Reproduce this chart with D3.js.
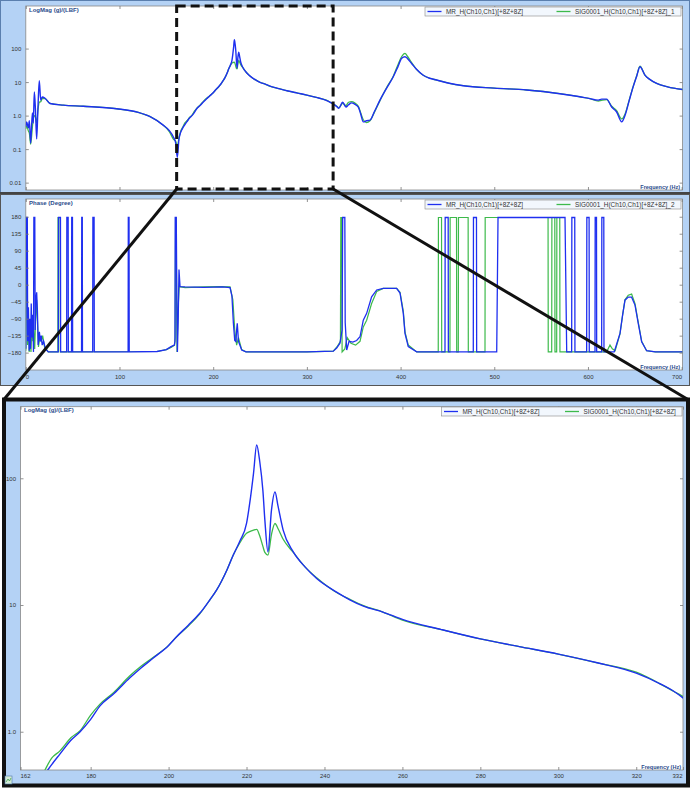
<!DOCTYPE html>
<meta charset="utf-8">
<style>
    body { margin: 0; background: #fff; }
    svg { display: block; font-family: "Liberation Sans", Arial, sans-serif; }
    .tick text { font-size: 6px; fill: #333; }
    .tick line { stroke: #777; stroke-width: 0.8; }
    .title { font-size: 6px; font-weight: bold; fill: #2b4c8c; }
    .legend text { font-size: 6.4px; fill: #333; }
</style>
<body>
<script src="https://cdn.jsdelivr.net/npm/d3@7/dist/d3.min.js"></script>
<script>
    // magnitude (g)/(LBF), both series share one frequency grid (Hz)
    const magFreq = [0,1,2.7,3.8,5.2,7,8,9.1,10.3,11.6,13,14.4,15.9,17.6,20.5,25.8,
        40,61.3,97,120,132.7,146.6,153,157.5,160,161.7,
        163.5,165,168,170,172,175,177.3,180,182.4,186,190,193,196,200,202,205,208,210.6,212.3,215,216.6,218.3,
        220,220.8,221.8,222.6,223.4,224.2,224.7,225.5,226.4,227.3,228.1,229.4,232,235,238,243,246.5,
        250,255,260,270,280,290,300,310,320,326,330,332,
        334,338.2,341.7,344.5,347.8,351,354.9,357.5,360.2,363.5,367.3,372,378,385,392.2,397,401.2,404.7,407.5,411.8,
        417,424.2,431,438.5,452,466.9,500,534.6,570,590,602.1,611,614.6,619.9,625.3,630.6,636,639.5,644,648.3,
        652,655.5,660.8,666,673.3,685,701];
    const mrMag = [0.47,0.65,0.43,0.7,0.15,1.2,0.6,5.1,1.5,0.2,1.8,11,2.9,3.6,3.3,2.3,
        2.05,1.9,1.6,1.25,0.93,0.52,0.36,0.23,0.15,0.057,
        0.2,0.3,0.45,0.55,0.66,0.86,1.0,1.25,1.6,2.0,2.65,3.2,3.8,4.8,5.6,6.9,8.6,11,13.1,19,24.8,32,
        44,63,110,183,135,80,47,26.3,56,78,60,39,26.3,20,16.2,12.7,11,
        9.8,8.8,7.7,6.4,5.4,4.7,4.1,3.5,2.9,2.4,2.05,1.85,
        1.65,2.5,1.8,2.1,2.4,2.2,1.8,1.1,0.65,0.7,0.73,1.3,2.9,6.5,14.4,28,51,57,50,36,
        24,16,13,11.5,9.2,7.8,6.6,5.8,4.5,3.7,3.2,2.9,3.1,3.1,1.8,1.28,0.65,1.0,2.8,7.3,
        15,28.6,16.2,12,9.1,7.2,6.0];
    const sigMag = [0.4,0.5,0.35,0.3,0.14,0.45,0.8,1.0,0.9,0.6,1.5,2.5,2.6,3.2,3.2,2.3,
        2.05,1.9,1.6,1.25,0.93,0.52,0.34,0.2,0.17,0.12,
        0.22,0.32,0.48,0.62,0.7,0.9,1.02,1.35,1.65,2.05,2.75,3.3,3.85,4.8,5.6,6.8,8.5,11,13.1,19,24.8,31,
        36.8,38,39,39.5,35,29,26,24.8,36,44,40,33,26,20,16.4,12.6,11.1,
        9.9,8.8,7.6,6.4,5.4,4.7,4.1,3.5,2.95,2.4,2.05,1.9,
        1.7,2.3,2.0,2.5,2.6,2.4,1.9,1.2,0.75,0.62,0.7,1.25,2.8,6.8,15,32,58,72,58,38,
        24,16,13,11.5,9.2,7.8,6.6,5.8,4.5,3.7,3.2,2.7,2.85,3.0,1.9,1.4,0.8,1.1,2.9,7.5,
        15.5,30,16.2,12,9.1,7.2,6.0];

    // phase (degree) as [Hz, deg]
    const mrPhase = [[0,-170],[0.6,178],[1.6,178],[2,-150],[2.8,-60],[3.6,-175],[4.3,-90],[5,-170],[5.8,-50],
        [6.6,-140],[7.4,-80],[8.2,-178],[8.6,178],[9.6,178],[10,-120],[10.8,-40],[11.6,-20],[12.4,-70],
        [13.2,-160],[14.5,-125],[15.5,-150],[16.5,-135],[17.5,-160],[19,-150],[21,-170],[24,-178],
        [34.7,-178],[34.9,178],[37,178],[37.2,-178],[43.6,-178],[43.8,178],[45.2,178],[45.4,-178],
        [48.8,-178],[49,178],[49.8,178],[50,-178],[59.5,-178],[59.7,178],[60.3,178],[60.5,-178],
        [71.4,-178],[71.6,178],[72.9,178],[73.1,-178],[109.2,-178],[109.4,178],[110.2,178],[110.4,-178],
        [140,-177],[150,-172],[155,-164],[158.5,-160],[159.2,-150],[159.5,178],[160.6,178],[161.2,-40],
        [161.8,-178],[162.6,-100],[163.5,40],[164.6,-5],[170,-6],[190,-7],[210,-6],[218,-8],[220,-30],
        [221.5,-100],[223,-148],[224.3,-151],[225,-120],[225.7,-102],[227,-150],[230.4,-173],[235,-178],
        [300,-178],[328.2,-176],[331.8,-168],[335.3,-155],[337.6,-120],[338.2,178],[340.5,178],[340.9,-100],
        [342.5,-173],[345,-150],[349,-152],[353.1,-148],[356.7,-138],[360.2,-94],[363.8,-76],[369.1,-32],
        [374.5,-14],[381.5,-10],[395.8,-10],[399.4,-22],[402.9,-76],[404.7,-129],[408.2,-164],[417.2,-178],
        [447.4,-178],[447.6,178],[450.8,178],[451,-178],[477.6,-178],[477.8,178],[481,178],[481.2,-178],
        [502.6,-178],[504,178],[575.5,178],[577.3,-178],[582.6,-178],[582.8,178],[585.9,178],[586.1,-178],
        [598.6,-178],[598.8,178],[601.2,178],[601.4,-178],[607.5,-178],[607.7,178],[609.1,178],[609.3,-178],
        [614.6,-178],[614.8,178],[616.9,178],[617.1,-178],[628,-178],[634.2,-129],[637,-80],[639.5,-41],
        [643,-33],[646.6,-33],[650.2,-54],[653.7,-103],[657.3,-151],[662.6,-175],[672,-178],[701,-178]];
    const sigPhase = [[0,-175],[0.4,178],[1.4,178],[1.8,-160],[2.8,-100],[3.6,-178],[4.5,-130],[5.5,-178],
        [6.5,-110],[7.5,-150],[8.5,-120],[9.5,-170],[10.5,-90],[11.6,-40],[12.5,-100],[13.5,-165],[15,-140],
        [16.5,-150],[18,-135],[20,-165],[24,-178],[34.2,-178],[34.4,178],[36.6,178],[36.8,-178],
        [140,-177],[150,-172],[155,-166],[158.8,-160],[159.4,-140],[159.8,178],[160.4,178],[161.4,-178],
        [162.6,-60],[163.8,-5],[170,-8],[190,-6],[205,-5],[218,-6],[221,-40],[223,-120],[225,-160],
        [227,-140],[230.4,-172],[235,-178],[300,-178],[328.2,-176],[332,-165],[335.8,-150],[336.2,178],
        [337.2,178],[337.6,-178],[340.5,-170],[343,-140],[347,-155],[352,-160],[356.7,-150],[360.2,-112],
        [363.8,-94],[369.1,-50],[374.5,-18],[381.5,-10],[395.8,-10],[399.4,-20],[402.9,-70],[404.7,-125],
        [408.2,-160],[417.2,-178],[440.2,-178],[440.4,178],[443.7,178],[443.9,-178],[452.7,-178],[452.9,178],
        [459.7,178],[459.9,-178],[461.6,-178],[461.8,178],[472.1,178],[472.3,-178],[490.1,-178],[490.3,178],
        [557.4,178],[557.6,-178],[561.3,-178],[561.5,178],[564.6,178],[564.8,-178],[566.6,-178],[566.8,178],
        [569.9,178],[570.1,-178],[620,-178],[623.5,-160],[626,-170],[629,-175],[634.2,-130],[637,-80],
        [639.5,-40],[643,-28],[646.6,-25],[650.2,-50],[653.7,-100],[657.3,-150],[662.6,-175],[672,-178],[701,-178]];

    // ticks
    const freqTicks = [0,100,200,300,400,500,600,700];
    const zoomFreqTicks = [162,180,200,220,240,260,280,300,320,332];
    const magTicks = [0.01,0.1,1,10,100];
    const magTickLabels = ["0.01","0.1","1.0","10","100"];
    const zoomMagTicks = [1,10,100];
    const phaseTicks = [-180,-135,-90,-45,0,45,90,135,180];
    const zoomRange = [161, 328]; // hand drawn box on the top panel

    const seriesNames = ["MR_H(Ch10,Ch1)[+8Z+8Z]", "SIG0001_H(Ch10,Ch1)[+8Z+8Z]"];
    const blue = "#1f2ff0", green = "#3dba4b", frameBlue = "#b4d2f5";

    const svg = d3.select('body').append('svg').attr('width', 694).attr('height', 792);

    const topBox = {left: 25.8, right: 682.6, top: 6, bottom: 190};
    const phaseBox = {left: 25.8, right: 682.6, top: 199, bottom: 370};
    const zoomBox = {left: 20.5, right: 683, top: 406.7, bottom: 770};

    const x = d3.scaleLinear().domain([0, 701]).range([topBox.left, topBox.right]);
    const yMag = d3.scaleLog().domain([Math.pow(10, -2.22), Math.pow(10, 3.27)]).range([topBox.bottom, topBox.top]);
    const yPhase = d3.scaleLinear().domain([-226, 227]).range([phaseBox.bottom, phaseBox.top]);
    const xZoom = d3.scaleLinear().domain([162, 332]).range([zoomBox.left, zoomBox.right]);
    const yZoom = d3.scaleLog().domain([Math.pow(10, -0.302), Math.pow(10, 2.565)]).range([zoomBox.bottom, zoomBox.top]);

    const mrPts = magFreq.map((f, i) => [f, mrMag[i]]);
    const sigPts = magFreq.map((f, i) => [f, sigMag[i]]);

    // outer frames of the top two panels
    svg.append('rect').attr('x', 0.5).attr('y', 0.5).attr('width', 689).attr('height', 192)
        .attr('fill', frameBlue).attr('stroke', '#5b7fae');
    svg.append('rect').attr('x', 0.5).attr('y', 194.5).attr('width', 689).attr('height', 191)
        .attr('fill', frameBlue).attr('stroke', '#555');
    svg.append('line').attr('x1', 0).attr('x2', 690).attr('y1', 193).attr('y2', 193)
        .attr('stroke', '#444').attr('stroke-width', 2);

    let clipId = 0;
    function plotArea(box) {
        const g = svg.append('g');
        g.append('rect').attr('x', box.left).attr('y', box.top)
            .attr('width', box.right - box.left).attr('height', box.bottom - box.top)
            .attr('fill', '#fff').attr('stroke', '#888').attr('stroke-width', 0.8);
        const id = 'clip' + (clipId++);
        svg.append('clipPath').attr('id', id).append('rect')
            .attr('x', box.left).attr('y', box.top)
            .attr('width', box.right - box.left).attr('height', box.bottom - box.top);
        const lines = g.append('g').attr('clip-path', `url(#${id})`);
        return {g, lines};
    }

    function axes(g, box, xs, ys, xt, xfmt, yt, yfmt, pad) {
        const noDomain = s => s.select('.domain').remove();
        const blank = () => '';
        g.append('g').attr('transform', `translate(${box.left},0)`)
            .call(d3.axisLeft(ys).tickValues(yt).tickFormat(yfmt).tickSize(-3).tickPadding(4.5)).call(noDomain);
        g.append('g').attr('transform', `translate(${box.right},0)`)
            .call(d3.axisRight(ys).tickValues(yt).tickFormat(blank).tickSize(-3)).call(noDomain);
        g.append('g').attr('transform', `translate(0,${box.top})`)
            .call(d3.axisTop(xs).tickValues(xt).tickFormat(blank).tickSize(-3)).call(noDomain);
        const bottom = g.append('g').attr('transform', `translate(0,${box.bottom})`)
            .call(d3.axisBottom(xs).tickValues(xt).tickFormat(xfmt || blank).tickSize(-3).tickPadding(pad)).call(noDomain);
        // end labels are kept inside the plot width
        const labels = bottom.selectAll('.tick text');
        const n = labels.size();
        labels.each(function(d, i) {
            const t = d3.select(this);
            if (i === 0) t.attr('text-anchor', 'start').attr('x', box.left - xs(d) - 0.5);
            if (i === n - 1) t.attr('text-anchor', 'end').attr('x', box.right - xs(d) - 1);
        });
        g.selectAll('.tick text').attr('font-family', null).attr('font-size', null);
    }

    function legend(x0, y0, x1, gx, label2) {
        const lg = svg.append('g').attr('class', 'legend');
        lg.append('rect').attr('x', x0).attr('y', y0).attr('width', x1 - x0).attr('height', 9)
            .attr('fill', '#f2f7fd').attr('stroke', '#888').attr('stroke-width', 0.6);
        [[x0 + 2.5, blue, seriesNames[0]], [gx, green, label2]].forEach(([lx, c, t]) => {
            lg.append('line').attr('x1', lx).attr('x2', lx + 14).attr('y1', y0 + 4.5).attr('y2', y0 + 4.5)
                .attr('stroke', c).attr('stroke-width', 1.3);
            lg.append('text').attr('x', lx + 18.5).attr('y', y0 + 6.8).text(t);
        });
    }

    // ---- top panel: LogMag
    const p1 = plotArea(topBox);
    const magLine = d3.line().x(d => x(d[0])).y(d => yMag(d[1])).curve(d3.curveMonotoneX);
    p1.lines.append('path').datum(sigPts).attr('d', magLine).attr('fill', 'none')
        .attr('stroke', green).attr('stroke-width', 1.3);
    p1.lines.append('path').datum(mrPts).attr('d', magLine).attr('fill', 'none')
        .attr('stroke', blue).attr('stroke-width', 1.4);
    axes(p1.g, topBox, x, yMag, freqTicks, null, magTicks, (d, i) => magTickLabels[i], 4);
    p1.g.append('text').attr('class', 'title').attr('x', 29).attr('y', 12).text('LogMag (g)/(LBF)');
    p1.g.append('text').attr('class', 'title').attr('x', 680).attr('y', 188.5)
        .attr('text-anchor', 'end').style('font-size', '5.5px').text('Frequency (Hz)');
    legend(425, 7, 681, 556.5, seriesNames[1] + '_1');

    // ---- phase panel
    const p2 = plotArea(phaseBox);
    const phLine = d3.line().x(d => x(d[0])).y(d => yPhase(d[1]));
    p2.lines.append('path').datum(sigPhase).attr('d', phLine).attr('fill', 'none')
        .attr('stroke', green).attr('stroke-width', 1.2);
    p2.lines.append('path').datum(mrPhase).attr('d', phLine).attr('fill', 'none')
        .attr('stroke', blue).attr('stroke-width', 1.3);
    axes(p2.g, phaseBox, x, yPhase, freqTicks, d3.format('d'), phaseTicks, d3.format('d'), 4.5);
    p2.g.append('text').attr('class', 'title').attr('x', 29).attr('y', 205).text('Phase (Degree)');
    p2.g.append('text').attr('class', 'title').attr('x', 680).attr('y', 368.5)
        .attr('text-anchor', 'end').style('font-size', '5.5px').text('Frequency (Hz)');
    legend(425, 200, 681, 556.5, seriesNames[1] + '_2');

    // ---- zoom box annotation and connectors
    const bx0 = x(zoomRange[0]), bx1 = x(zoomRange[1]);
    svg.append('rect').attr('x', bx0).attr('y', topBox.top).attr('width', bx1 - bx0)
        .attr('height', topBox.bottom - 1 - topBox.top)
        .attr('fill', 'none').attr('stroke', '#111').attr('stroke-width', 3).attr('stroke-dasharray', '9,5');
    svg.append('line').attr('x1', bx0).attr('y1', topBox.bottom - 1).attr('x2', 4).attr('y2', 399.5)
        .attr('stroke', '#111').attr('stroke-width', 3);
    svg.append('line').attr('x1', bx1).attr('y1', topBox.bottom - 1).attr('x2', 688).attr('y2', 399.5)
        .attr('stroke', '#111').attr('stroke-width', 3);

    // ---- zoomed panel
    svg.append('rect').attr('x', 4).attr('y', 399.5).attr('width', 684).attr('height', 386)
        .attr('fill', frameBlue).attr('stroke', '#111').attr('stroke-width', 4);
    const p3 = plotArea(zoomBox);
    const zLine = d3.line().x(d => xZoom(d[0])).y(d => yZoom(d[1])).curve(d3.curveMonotoneX);
    const inZoom = d => d[0] >= 150 && d[0] <= 345;
    p3.lines.append('path').datum(sigPts.filter(inZoom)).attr('d', zLine).attr('fill', 'none')
        .attr('stroke', green).attr('stroke-width', 1.3);
    p3.lines.append('path').datum(mrPts.filter(inZoom)).attr('d', zLine).attr('fill', 'none')
        .attr('stroke', blue).attr('stroke-width', 1.4);
    axes(p3.g, zoomBox, xZoom, yZoom, zoomFreqTicks, d3.format('d'), zoomMagTicks,
        d => d === 1 ? '1.0' : d3.format('d')(d), 3.5);
    p3.g.append('text').attr('class', 'title').attr('x', 24).attr('y', 412).text('LogMag (g)/(LBF)');
    p3.g.append('text').attr('class', 'title').attr('x', 681).attr('y', 768.5)
        .attr('text-anchor', 'end').style('font-size', '5.5px').text('Frequency (Hz)');
    legend(441.5, 407, 682, 565, seriesNames[1]);

    // small icon in the corner
    svg.append('rect').attr('x', 5).attr('y', 776).attr('width', 7).attr('height', 8)
        .attr('fill', '#d5ecd6').attr('stroke', '#4f77ad').attr('stroke-width', 0.6);
    svg.append('path').attr('d', 'M6,782 L8,779 L9.5,781 L11,778').attr('fill', 'none')
        .attr('stroke', '#2e9a40').attr('stroke-width', 0.7);
</script>
</body>
</html>
